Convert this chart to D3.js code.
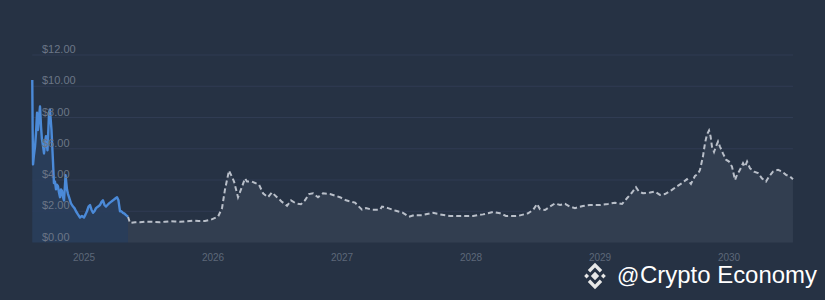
<!DOCTYPE html>
<html>
<head>
<meta charset="utf-8">
<script src="https://cdn.jsdelivr.net/npm/d3@7"></script>
<style>
  html, body { margin: 0; padding: 0; background: #263244; }
  svg { display: block; font-family: "Liberation Sans", Arial, sans-serif; }
</style>
</head>
<body>
<div id="chart"></div>
<script>
(function() {
    'use strict';

    // price history (decimal year, USD)
    const histYears = [2024.599, 2024.602, 2024.605, 2024.612, 2024.620, 2024.628, 2024.636, 2024.643, 2024.651, 2024.659,
        2024.667, 2024.674, 2024.682, 2024.690, 2024.698, 2024.705, 2024.717, 2024.729, 2024.736, 2024.748,
        2024.760, 2024.767, 2024.775, 2024.783, 2024.790, 2024.798, 2024.806, 2024.814, 2024.822, 2024.829,
        2024.837, 2024.845, 2024.857, 2024.868, 2024.876, 2024.884, 2024.899, 2024.915, 2024.926, 2024.938,
        2024.953, 2024.969, 2024.984, 2025.000, 2025.012, 2025.023, 2025.035, 2025.047, 2025.058, 2025.070,
        2025.081, 2025.093, 2025.109, 2025.124, 2025.136, 2025.147, 2025.159, 2025.171, 2025.182, 2025.194,
        2025.209, 2025.225, 2025.240, 2025.256, 2025.267, 2025.279, 2025.290, 2025.302, 2025.314, 2025.326, 2025.341];
    const histPrices = [10.4, 7.2, 5.0, 5.6, 6.1, 7.0, 8.3, 7.2, 8.0, 8.7,
        7.4, 6.6, 6.2, 5.7, 6.4, 6.8, 5.9, 8.3, 8.5, 7.2,
        5.1, 3.8, 3.9, 3.4, 3.7, 3.6, 3.2, 2.9, 3.4, 3.3,
        2.9, 2.7, 4.3, 3.4, 3.1, 2.9, 2.5, 2.3, 2.2, 2.0,
        1.8, 1.6, 1.7, 1.6, 1.8, 2.0, 2.3, 2.4, 2.1, 1.9,
        2.0, 2.2, 2.3, 2.4, 2.6, 2.7, 2.4, 2.3, 2.4, 2.5,
        2.6, 2.7, 2.8, 2.9, 2.7, 2.0, 2.0, 1.9, 1.85, 1.75, 1.65];

    // forecast (decimal year, USD)
    const fcYears = [2025.341, 2025.357, 2025.396, 2025.434, 2025.473, 2025.512, 2025.550, 2025.589, 2025.628, 2025.667,
        2025.705, 2025.744, 2025.795, 2025.845, 2025.891, 2025.938, 2025.977, 2026.039, 2026.070, 2026.093,
        2026.124, 2026.147, 2026.163, 2026.194, 2026.217, 2026.248, 2026.264, 2026.302, 2026.357, 2026.388,
        2026.426, 2026.457, 2026.496, 2026.535, 2026.574, 2026.605, 2026.643, 2026.682, 2026.713, 2026.744,
        2026.775, 2026.814, 2026.853, 2026.907, 2026.984, 2027.031, 2027.101, 2027.155, 2027.186, 2027.233,
        2027.295, 2027.310, 2027.357, 2027.411, 2027.473, 2027.519, 2027.558, 2027.620, 2027.705, 2027.760,
        2027.837, 2027.953, 2028.016, 2028.093, 2028.171, 2028.225, 2028.271, 2028.364, 2028.442, 2028.481,
        2028.512, 2028.535, 2028.574, 2028.612, 2028.651, 2028.690, 2028.729, 2028.767, 2028.806, 2028.868,
        2028.922, 2029.000, 2029.062, 2029.116, 2029.171, 2029.209, 2029.248, 2029.279, 2029.302, 2029.333,
        2029.388, 2029.426, 2029.465, 2029.504, 2029.558, 2029.597, 2029.636, 2029.674, 2029.705, 2029.736,
        2029.760, 2029.775, 2029.798, 2029.814, 2029.829, 2029.845, 2029.857, 2029.868, 2029.884, 2029.899,
        2029.915, 2029.930, 2029.953, 2029.977, 2030.000, 2030.023, 2030.047, 2030.062, 2030.085, 2030.109,
        2030.124, 2030.140, 2030.163, 2030.194, 2030.225, 2030.256, 2030.287, 2030.310, 2030.341, 2030.380,
        2030.411, 2030.442, 2030.473, 2030.496];
    const fcPrices = [1.65, 1.25, 1.30, 1.30, 1.33, 1.33, 1.31, 1.30, 1.33, 1.36,
        1.35, 1.33, 1.36, 1.40, 1.38, 1.38, 1.44, 1.65, 2.2, 3.4,
        4.6, 4.2, 3.9, 2.9, 3.4, 4.1, 3.9, 3.9, 3.7, 3.15,
        2.9, 3.2, 2.9, 2.6, 2.35, 2.7, 2.5, 2.45, 2.7, 3.1,
        3.15, 2.9, 3.15, 3.1, 2.9, 2.7, 2.55, 2.1, 2.2, 2.1,
        2.1, 2.3, 2.2, 2.05, 1.9, 1.65, 1.75, 1.75, 1.9, 1.8,
        1.7, 1.7, 1.7, 1.8, 1.95, 1.87, 1.7, 1.7, 1.87, 2.08,
        2.47, 2.13, 2.08, 2.3, 2.5, 2.4, 2.47, 2.3, 2.2, 2.34,
        2.4, 2.4, 2.47, 2.55, 2.47, 2.83, 3.2, 3.54, 3.26, 3.15,
        3.2, 3.26, 3.05, 3.1, 3.37, 3.6, 3.8, 4.05, 3.75, 4.26,
        4.4, 4.65, 5.5, 6.36, 6.9, 7.17, 6.8, 6.14, 5.8, 6.14,
        6.46, 6.14, 5.7, 5.3, 5.18, 4.86, 4.0, 4.33, 4.65, 5.08,
        4.86, 5.18, 4.75, 4.54, 4.44, 4.1, 3.9, 4.22, 4.54, 4.65,
        4.54, 4.33, 4.22, 4.05];

    const yTicks = [0, 2, 4, 6, 8, 10, 12];
    const xTicks = [2025, 2026, 2027, 2028, 2029, 2030];

    const width = 825;
    const height = 300;

    const hist = histYears.map((y, i) => ({ t: y, v: histPrices[i] }));
    const fc = fcYears.map((y, i) => ({ t: y, v: fcPrices[i] }));

    const x = d3.scaleLinear().domain([2025, 2030]).range([84, 729]);
    const y = d3.scaleLinear().domain([0, 12]).range([242.5, 55]);

    const x0 = x(histYears[0]);
    const x1 = x(fcYears[fcYears.length - 1]);

    const svg = d3.select("#chart")
        .append("svg")
        .attr("width", width)
        .attr("height", height);

    svg.append("rect")
        .attr("width", width)
        .attr("height", height)
        .attr("fill", "#263244");

    //gridlines
    svg.append("g")
        .selectAll("line")
        .data(yTicks.filter(d => d > 0))
        .enter()
        .append("line")
        .attr("x1", x0)
        .attr("x2", x1)
        .attr("y1", d => y(d))
        .attr("y2", d => y(d))
        .attr("stroke", "#34405a")
        .attr("stroke-opacity", 0.7)
        .attr("stroke-width", 1);

    const area = d3.area()
        .x(d => x(d.t))
        .y0(y(0))
        .y1(d => y(d.v));

    const line = d3.line()
        .x(d => x(d.t))
        .y(d => y(d.v));

    // forecast area + line
    svg.append("path")
        .datum(fc)
        .attr("d", area)
        .attr("fill", "#323e50");

    svg.append("path")
        .datum(hist)
        .attr("d", area)
        .attr("fill", "#2a3e5c")
        .attr("fill-opacity", 0.9);

    svg.append("path")
        .datum(fc)
        .attr("d", line)
        .attr("fill", "none")
        .attr("stroke", "#b9bfc9")
        .attr("stroke-width", 2)
        .attr("stroke-dasharray", "5,3");

    svg.append("path")
        .datum(hist)
        .attr("d", line)
        .attr("fill", "none")
        .attr("stroke", "#4b8ad8")
        .attr("stroke-width", 2.4)
        .attr("stroke-linejoin", "round");

    // y labels
    svg.append("g")
        .selectAll("text")
        .data(yTicks)
        .enter()
        .append("text")
        .attr("x", 42)
        .attr("y", d => y(d) - 2)
        .attr("fill", "#6b7687")
        .attr("font-size", 11)
        .text(d => "$" + d3.format(".2f")(d));

    // x labels
    svg.append("g")
        .selectAll("text")
        .data(xTicks)
        .enter()
        .append("text")
        .attr("x", d => x(d))
        .attr("y", 261)
        .attr("text-anchor", "middle")
        .attr("fill", "#5d6879")
        .attr("font-size", 10)
        .text(d => d);

    // watermark
    const logo = svg.append("g")
        .attr("transform", "translate(595,276) scale(1.2)")
        .attr("fill", "#e8e8e8");
    logo.append("path").attr("d", "M0,-3.5 L3.5,0 L0,3.5 L-3.5,0 Z");
    logo.append("path").attr("d", "M-9,0 L-7,-2 L-5,0 L-7,2 Z");
    logo.append("path").attr("d", "M9,0 L7,-2 L5,0 L7,2 Z");
    logo.append("path").attr("d", "M0,-11 L6,-5 L4,-3 L0,-7 L-4,-3 L-6,-5 Z");
    logo.append("path").attr("d", "M0,11 L6,5 L4,3 L0,7 L-4,3 L-6,5 Z");

    svg.append("text")
        .attr("x", 617)
        .attr("y", 283)
        .attr("fill", "#ffffff")
        .attr("font-size", 22)
        .text("@");

    svg.append("text")
        .attr("x", 640)
        .attr("y", 283)
        .attr("fill", "#ffffff")
        .attr("font-size", 23)
        .attr("textLength", 177)
        .attr("lengthAdjust", "spacingAndGlyphs")
        .text("Crypto Economy");

})();
</script>
</body>
</html>
